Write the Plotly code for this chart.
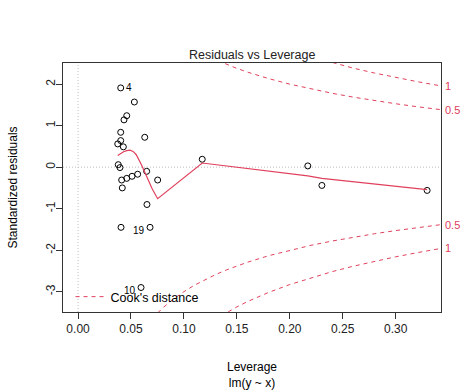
import plotly.graph_objects as go

# Observations: leverage and standardized residuals
leverage = [0.0403, 0.0532, 0.0460, 0.0434, 0.0403, 0.0630, 0.0403, 0.0375, 0.0428,
            0.0380, 0.0396, 0.0412, 0.0460, 0.0510, 0.0563, 0.0648, 0.0752, 0.0418,
            0.0651, 0.0406, 0.0680, 0.0595, 0.1173, 0.2170, 0.2303, 0.3297]
std_resid = [1.91, 1.57, 1.24, 1.14, 0.84, 0.72, 0.64, 0.56, 0.49,
             0.06, -0.01, -0.31, -0.27, -0.22, -0.17, -0.10, -0.31, -0.50,
             -0.90, -1.45, -1.45, -2.90, 0.19, 0.03, -0.44, -0.56]

# Labelled observations
id_labels = ["4", "19", "10"]
id_lev = [0.0403, 0.0680, 0.0595]
id_res = [1.91, -1.45, -2.90]
id_side = ["right", "left", "left"]

# Smoother (red line)
smooth_x = [0.0375, 0.040, 0.043, 0.046, 0.049, 0.052, 0.055, 0.060, 0.065, 0.070,
            0.0752, 0.1173, 0.2170, 0.2303, 0.3297]
smooth_y = [0.28, 0.33, 0.37, 0.40, 0.41, 0.38, 0.30, 0.05, -0.25, -0.52,
            -0.76, 0.10, -0.21, -0.27, -0.54]

# Cook's distance contours
cook_h = [0.07, 0.08, 0.09, 0.10, 0.11, 0.12, 0.13, 0.14, 0.15, 0.16, 0.18,
          0.20, 0.22, 0.24, 0.26, 0.28, 0.30, 0.32, 0.3428]
cook05 = [3.645, 3.391, 3.180, 3.000, 2.844, 2.708, 2.587, 2.478, 2.380, 2.291, 2.134,
          2.000, 1.883, 1.780, 1.687, 1.604, 1.528, 1.458, 1.385]
cook1 = [5.155, 4.796, 4.497, 4.243, 4.022, 3.830, 3.659, 3.505, 3.367, 3.240, 3.018,
         2.828, 2.663, 2.517, 2.386, 2.268, 2.160, 2.062, 1.958]
cook_levels = ["0.5", "1"]

x_ticks = [0.00, 0.05, 0.10, 0.15, 0.20, 0.25, 0.30]
x_tick_text = ["0.00", "0.05", "0.10", "0.15", "0.20", "0.25", "0.30"]
y_ticks = [-3, -2, -1, 0, 1, 2]
y_tick_text = ["-3", "-2", "-1", "0", "1", "2"]

RED = "#E0405C"
FONT = "Liberation Sans, Arial, sans-serif"

fig = go.Figure()

fig.add_hline(y=0, line=dict(color="#BEBEBE", width=1, dash="1px,2px"), layer="below")
fig.add_vline(x=0, line=dict(color="#BEBEBE", width=1, dash="1px,2px"), layer="below")

fig.add_trace(go.Scatter(x=leverage, y=std_resid, mode="markers",
                         marker=dict(symbol="circle-open", size=6, color="black",
                                     line=dict(width=1, color="black")),
                         showlegend=False, hoverinfo="x+y"))
fig.add_trace(go.Scatter(x=smooth_x, y=smooth_y, mode="lines",
                         line=dict(color=RED, width=1.2), showlegend=False))

for i, (vals, lvl) in enumerate(zip([cook05, cook1], cook_levels)):
    fig.add_trace(go.Scatter(x=cook_h, y=vals, mode="lines",
                             line=dict(color=RED, width=1, dash="4px,4px"),
                             name="Cook's distance", showlegend=(i == 0)))
    fig.add_trace(go.Scatter(x=cook_h, y=[-v for v in vals], mode="lines",
                             line=dict(color=RED, width=1, dash="4px,4px"),
                             showlegend=False))
    for sgn in (1, -1):
        fig.add_annotation(xref="paper", x=1, y=sgn * vals[-1], text=lvl,
                           showarrow=False, xanchor="left", xshift=2,
                           font=dict(color=RED, size=11, family=FONT))

for lab, lx, ly, side in zip(id_labels, id_lev, id_res, id_side):
    fig.add_annotation(x=lx, y=ly, text=lab, showarrow=False,
                       xanchor="left" if side == "right" else "right",
                       xshift=3 if side == "right" else -3,
                       yshift=0 if side == "right" else -3,
                       font=dict(size=10, color="black", family=FONT))

fig.add_annotation(xref="paper", yref="paper", x=0.5, y=0, yanchor="top", yshift=-46,
                   text="Leverage<br>lm(y ~ x)", showarrow=False,
                   font=dict(size=12, color="black", family=FONT))
fig.add_annotation(xref="paper", yref="paper", x=0, y=0.5, xanchor="center", xshift=-51,
                   textangle=-90, text="Standardized residuals", showarrow=False,
                   font=dict(size=12, color="black", family=FONT))

axis_common = dict(showline=True, linecolor="#333333", linewidth=1, mirror=True,
                   ticks="outside", ticklen=6, tickcolor="#333333", showgrid=False,
                   zeroline=False, tickfont=dict(size=12, color="#222222", family=FONT))
fig.update_xaxes(range=[-0.0142, 0.3428], tickvals=x_ticks, ticktext=x_tick_text,
                 **axis_common)
fig.update_yaxes(range=[-3.49, 2.51], tickvals=y_ticks, ticktext=y_tick_text,
                 tickangle=-90, ticklabelstandoff=-4, **axis_common)

fig.update_layout(
    width=474, height=391,
    margin=dict(l=63, r=33, t=63, b=79),
    paper_bgcolor="white", plot_bgcolor="white",
    font=dict(family=FONT, size=12, color="black"),
    title=dict(text="Residuals vs Leverage", x=0.532, xanchor="center",
               yref="paper", y=1, yanchor="bottom", pad=dict(b=4),
               font=dict(size=12.5, family=FONT, color="#222222")),
    legend=dict(x=0.02, y=0.0, xanchor="left", yanchor="bottom",
                bgcolor="rgba(0,0,0,0)", font=dict(size=12.5, family=FONT),
                itemwidth=30),
)

fig.write_html("out.html", config={"displayModeBar": False},
               post_script="document.body.style.margin='0';document.body.style.overflow='hidden';")
